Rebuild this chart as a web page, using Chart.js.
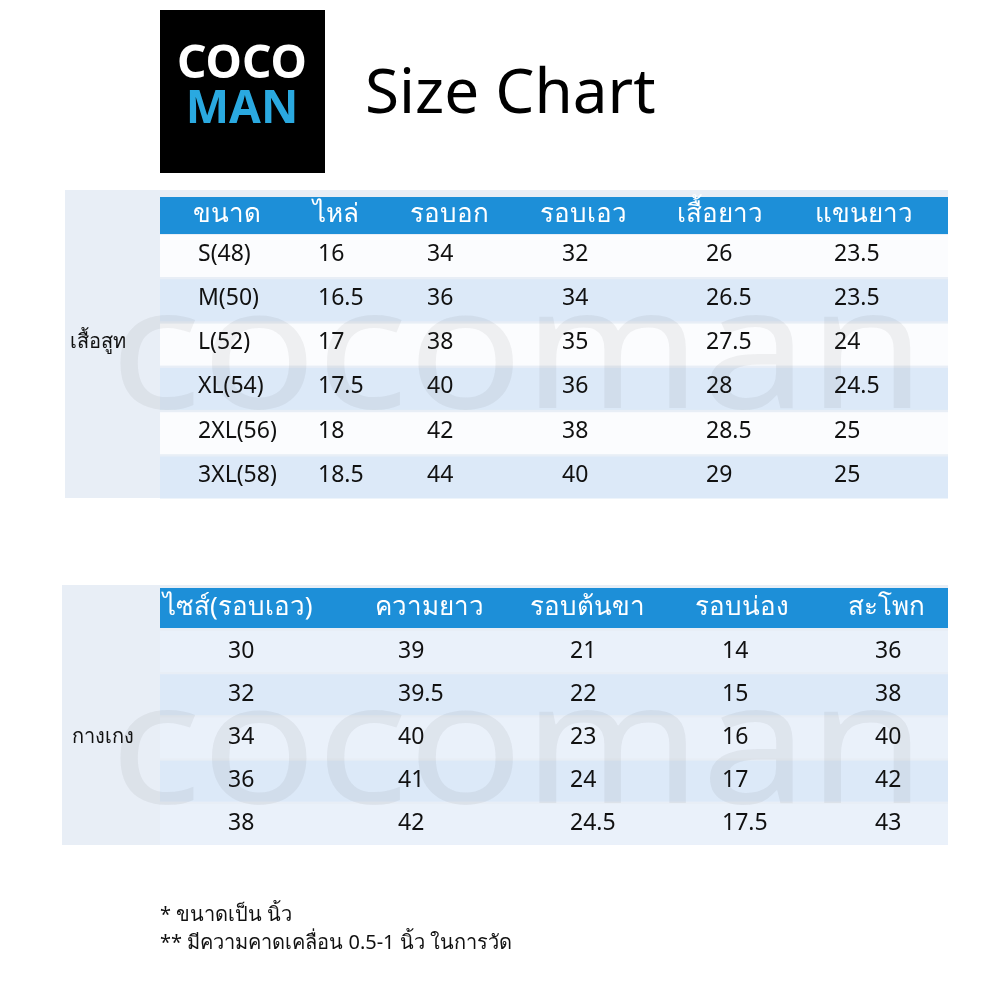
<!DOCTYPE html>
<html><head><meta charset="utf-8">
<script src="https://cdn.jsdelivr.net/npm/chart.js@4/dist/chart.umd.min.js"></script>
<style>html,body{margin:0;padding:0;background:#fff}#wrap{width:1000px;height:1000px}</style>
</head><body><div id="wrap"><canvas id="c"></canvas></div>
<script>
// data
const jacketHeaders = ['ขนาด', 'ไหล่', 'รอบอก', 'รอบเอว', 'เสื้อยาว', 'แขนยาว'];
const jacketSizes = ['S(48)', 'M(50)', 'L(52)', 'XL(54)', '2XL(56)', '3XL(58)'];
const shoulder = [16, 16.5, 17, 17.5, 18, 18.5];
const chest = [34, 36, 38, 40, 42, 44];
const waist = [32, 34, 35, 36, 38, 40];
const jacketLength = [26, 26.5, 27.5, 28, 28.5, 29];
const sleeve = [23.5, 23.5, 24, 24.5, 25, 25];

const pantsHeaders = ['ไซส์(รอบเอว)', 'ความยาว', 'รอบต้นขา', 'รอบน่อง', 'สะโพก'];
const pantsWaist = [30, 32, 34, 36, 38];
const pantsLength = [39, 39.5, 40, 41, 42];
const thigh = [21, 22, 23, 24, 24.5];
const calf = [14, 15, 16, 17, 17.5];
const hip = [36, 38, 40, 42, 43];

const FONT = '"Noto Sans", "DejaVu Sans", sans-serif';
const BLUE = '#1d8fd8';

const tablePlugin = {
    id: 'tables',
    afterDraw(chart) {
        const ctx = chart.ctx;
        const X = v => chart.scales.x.getPixelForValue(v);
        const Y = v => chart.scales.y.getPixelForValue(v);
        const rect = (x1, y1, x2, y2, c) => { ctx.fillStyle = c; ctx.fillRect(X(x1), Y(y1), X(x2) - X(x1), Y(y2) - Y(y1)); };
        const text = (t, x, y, size, c, weight) => {
            ctx.font = `${weight || ''} ${size}px ${FONT}`; ctx.fillStyle = c;
            ctx.textBaseline = 'middle'; ctx.textAlign = 'left'; ctx.fillText(t, X(x), Y(y));
        };
        ctx.save();

        // logo
        rect(160, 10, 325, 173, '#000');
        ctx.textAlign = 'center';
        ctx.font = `bold 46px ${FONT}`; ctx.textBaseline = 'middle';
        ctx.fillStyle = '#fff'; ctx.fillText('COCO', X(242), Y(65));
        ctx.fillStyle = '#2aa9e0'; ctx.fillText('MAN', X(242), Y(110));
        text('Size Chart', 365, 95, 62, '#000');

        // jacket table
        rect(65, 190, 948, 498, '#e8eef6');
        rect(160, 197, 948, 234, BLUE);
        const jx = [193, 313, 410, 540, 677, 815];
        jacketHeaders.forEach((h, i) => text(h, jx[i], 215, 26, '#fff'));
        const jCols = [jacketSizes, shoulder, chest, waist, jacketLength, sleeve];
        const jvx = [198, 318, 427, 562, 706, 834];
        jacketSizes.forEach((s, r) => {
            const y0 = 234 + r * 44.3;
            rect(160, y0 + 1, 948, y0 + 43, r % 2 ? '#dce9f8' : '#fbfcfe');
            jCols.forEach((col, ci) => text(String(col[r]), jvx[ci], y0 + 20, 23, '#111'));
        });
        text('เสื้อสูท', 70, 342, 20, '#111');

        // pants table
        rect(62, 585, 948, 845, '#e8eef6');
        rect(160, 588, 948, 628, BLUE);
        const px = [163, 375, 530, 695, 848];
        pantsHeaders.forEach((h, i) => text(h, px[i], 608, 26, '#fff'));
        const pCols = [pantsWaist, pantsLength, thigh, calf, hip];
        const pvx = [228, 398, 570, 722, 875];
        pantsWaist.forEach((s, r) => {
            const y0 = 630 + r * 43.2;
            rect(160, y0 + 1, 948, y0 + 42, r % 2 ? '#dce9f8' : '#eaf1fa');
            pCols.forEach((col, ci) => text(String(col[r]), pvx[ci], y0 + 21, 23, '#111'));
        });
        text('กางเกง', 72, 737, 20, '#111');

        // watermark, faint and wide
        ctx.globalAlpha = 0.07;
        ctx.fillStyle = '#444';
        ctx.font = `170px ${FONT}`; ctx.textAlign = 'left';
        [360, 755].forEach(wy => {
            ctx.save();
            ctx.translate(X(110), Y(wy));
            ctx.scale(1.12, 1);
            ctx.fillText('cocoman', 0, 0);
            ctx.restore();
        });
        ctx.globalAlpha = 1;

        text('* ขนาดเป็น นิ้ว', 160, 915, 20, '#111');
        text('** มีความคาดเคลื่อน 0.5-1 นิ้ว ในการวัด', 160, 943, 20, '#111');
        ctx.restore();
    }
};

new Chart(document.getElementById('c'), {
    type: 'scatter',
    data: { datasets: [{ data: [] }] },
    options: {
        responsive: true,
        maintainAspectRatio: false,
        animation: false,
        layout: { padding: 0 },
        plugins: { legend: { display: false }, tooltip: { enabled: false } },
        scales: {
            x: { type: 'linear', min: 0, max: 1000, display: false },
            y: { type: 'linear', min: 0, max: 1000, reverse: true, display: false }
        }
    },
    plugins: [tablePlugin]
});
</script></body></html>
